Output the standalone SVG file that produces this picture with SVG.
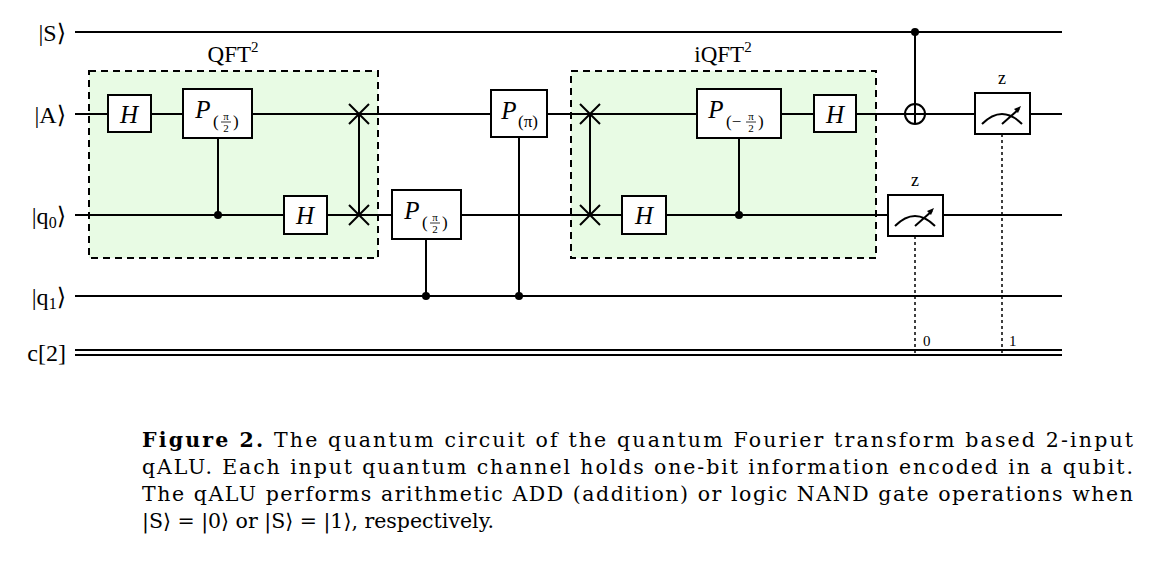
<svg xmlns="http://www.w3.org/2000/svg" width="1150" height="570" viewBox="0 0 1150 570">
<style>
text{font-family:"Liberation Serif","DejaVu Serif",serif;fill:#000}
.lbl{font-size:24px;text-anchor:end}
.w{stroke:#000;stroke-width:2;fill:none}
.g{fill:#fff;stroke:#000;stroke-width:2}
.box{fill:#e8fbe4;stroke:#000;stroke-width:2;stroke-dasharray:7,5}
.it{font-style:italic;font-size:25px;text-anchor:middle}
.pp{font-size:17px}
.fr{font-size:11px;text-anchor:middle}
.cap{font-family:"DejaVu Serif","Liberation Serif",serif;font-size:20.5px}
.dot{fill:#000}
.dt{stroke:#000;stroke-width:1.5;stroke-dasharray:3,3}
.fl{stroke:#000;stroke-width:0.8}
</style>
<rect width="1150" height="570" fill="#fff"/>
<g id="labels">
<text class="lbl" x="66" y="41">|S⟩</text>
<text class="lbl" x="66" y="123">|A⟩</text>
<text class="lbl" x="66" y="224">|q<tspan font-size="16" dy="4">0</tspan><tspan dy="-4">⟩</tspan></text>
<text class="lbl" x="66" y="305">|q<tspan font-size="16" dy="4">1</tspan><tspan dy="-4">⟩</tspan></text>
<text class="lbl" x="66" y="361">c[2]</text>
</g>
<g id="qft"><rect class="box" x="89" y="71" width="289" height="187"/><text x="233" y="62" font-size="23" text-anchor="middle">QFT<tspan font-size="15" dy="-10">2</tspan></text></g>
<g id="iqft"><rect class="box" x="571" y="71" width="305" height="187"/><text x="723" y="62" font-size="23" text-anchor="middle">iQFT<tspan font-size="15" dy="-10">2</tspan></text></g>
<g id="wires">
<line class="w" x1="75" y1="32" x2="1062" y2="32"/>
<line class="w" x1="75" y1="114" x2="1062" y2="114"/>
<line class="w" x1="75" y1="215" x2="1062" y2="215"/>
<line class="w" x1="75" y1="296" x2="1062" y2="296"/>
<line class="w" x1="75" y1="350" x2="1062" y2="350" stroke-width="1.6"/>
<line class="w" x1="75" y1="355" x2="1062" y2="355" stroke-width="1.6"/>
</g>
<g id="connectors">
<line class="w" x1="218" y1="138" x2="218" y2="215"/>
<line class="w" x1="359" y1="114" x2="359" y2="215"/>
<line class="w" x1="426" y1="239" x2="426" y2="296"/>
<line class="w" x1="519" y1="137" x2="519" y2="296"/>
<line class="w" x1="590" y1="114" x2="590" y2="215"/>
<line class="w" x1="739" y1="138" x2="739" y2="215"/>
<line class="w" x1="915" y1="32" x2="915" y2="124"/>
<line class="dt" x1="915" y1="236" x2="915" y2="355"/>
<line class="dt" x1="1002" y1="134" x2="1002" y2="355"/>
<circle class="dot" cx="218" cy="215" r="4"/>
<circle class="dot" cx="426" cy="296" r="4"/>
<circle class="dot" cx="519" cy="296" r="4"/>
<circle class="dot" cx="739" cy="215" r="4"/>
<circle class="dot" cx="915" cy="32" r="4"/>
<path class="w" d="M349 104l20 20M369 104l-20 20M349 205l20 20M369 205l-20 20"/>
<path class="w" d="M580 104l20 20M600 104l-20 20M580 205l20 20M600 205l-20 20"/>
<text x="923" y="346" font-size="15">0</text>
<text x="1009" y="346" font-size="15">1</text>
</g>
<g id="H1"><rect class="g" x="108" y="95" width="43" height="37"/><text class="it" x="129" y="123">H</text></g>
<g id="P1"><rect class="g" x="183" y="89" width="69" height="49"/><text class="it" x="203" y="118">P</text><text class="pp" x="213" y="127">(</text><text class="fr" x="226" y="120">π</text><line class="fl" x1="221" y1="122" x2="231" y2="122"/><text class="fr" x="226" y="132">2</text><text class="pp" x="233" y="127">)</text></g>
<g id="H2"><rect class="g" x="284" y="196" width="43" height="38"/><text class="it" x="305" y="224">H</text></g>
<g id="P2"><rect class="g" x="392" y="190" width="69" height="49"/><text class="it" x="412" y="219">P</text><text class="pp" x="422" y="228">(</text><text class="fr" x="435" y="221">π</text><line class="fl" x1="430" y1="223" x2="440" y2="223"/><text class="fr" x="435" y="233">2</text><text class="pp" x="442" y="228">)</text></g>
<g id="P3"><rect class="g" x="491" y="90" width="56" height="47"/><text class="it" x="509" y="119">P</text><text class="pp" x="518" y="127">(π)</text></g>
<g id="H3"><rect class="g" x="622" y="196" width="44" height="38"/><text class="it" x="644" y="224">H</text></g>
<g id="P4"><rect class="g" x="697" y="89" width="84" height="49"/><text class="it" x="716" y="118">P</text><text class="pp" x="726" y="127">(−</text><text class="fr" x="751" y="120">π</text><line class="fl" x1="746" y1="122" x2="756" y2="122"/><text class="fr" x="751" y="132">2</text><text class="pp" x="758" y="127">)</text></g>
<g id="H4"><rect class="g" x="814" y="95" width="42" height="37"/><text class="it" x="835" y="123">H</text></g>
<g id="CNOT"><circle cx="915" cy="114" r="10" fill="#fff" stroke="#000" stroke-width="2"/><path class="w" d="M905 114h20M915 104v20"/></g>
<g id="M0"><rect class="g" x="888" y="195" width="55" height="41"/><path class="w" d="M895 226q20 -20 40 0M915 226l17 -15"/><path d="M934 208l-3 7l-4 -4z" fill="#000"/><text x="915" y="186" font-size="18" text-anchor="middle">z</text></g>
<g id="M1"><rect class="g" x="975" y="93" width="55" height="41"/><path class="w" d="M982 124q20 -20 40 0M1002 124l17 -15"/><path d="M1021 106l-3 7l-4 -4z" fill="#000"/><text x="1002" y="84" font-size="18" text-anchor="middle">z</text></g>
<g id="caption">
<text class="cap" x="142" y="447" textLength="991" lengthAdjust="spacing"><tspan font-weight="bold">Figure 2.</tspan>   The quantum circuit of the quantum Fourier transform based 2-input</text>
<text class="cap" x="142" y="474" textLength="991" lengthAdjust="spacing">qALU. Each input quantum channel holds one-bit information encoded in a qubit.</text>
<text class="cap" x="142" y="501" textLength="991" lengthAdjust="spacing">The qALU performs arithmetic ADD (addition) or logic NAND gate operations when</text>
<text class="cap" x="142" y="528">|S⟩ = |0⟩ or |S⟩ = |1⟩, respectively.</text>
</g>
</svg>
